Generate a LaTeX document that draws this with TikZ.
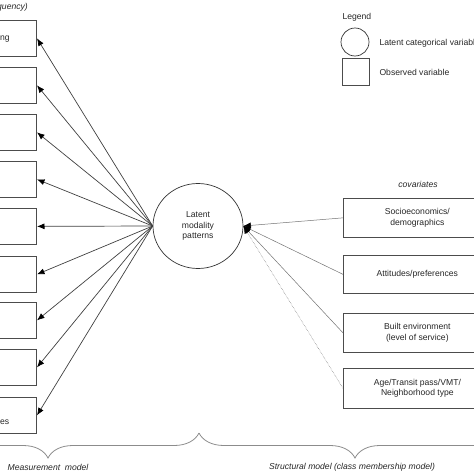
\documentclass[tikz,border=0pt]{standalone}
\usepackage{fontspec}
\setmainfont{Liberation Sans}
\usetikzlibrary{shapes.geometric,arrows.meta,decorations.pathreplacing}
\begin{document}
\begin{tikzpicture}[x=1pt,y=-1pt,
  every node/.style={font=\fontsize{8.6}{10.5}\selectfont, text=black!85},
  obsbox/.style={draw=black!70, line width=0.7pt, rectangle, inner sep=0pt},
  leftarrow/.style={draw=black!75, line width=0.7pt, -{Latex[length=7.5pt,width=6pt,black]}},
  rightarrow/.style={draw=black!55, line width=0.5pt, -{Latex[length=7.5pt,width=6pt,black]}},
  bracestyle/.style={draw=black!45, line width=0.8pt, decorate, decoration={brace, mirror, amplitude=25pt}}
]
\useasboundingbox (0,0) rectangle (474,474);

% top partial caption
\node[anchor=east, font=\fontsize{8.6}{10.5}\selectfont\itshape, inner sep=0pt] (cap) at (28,7) {(frequency)};

% left observed boxes (cut off at the left edge)
\foreach \i/\t in {1/20,2/67,3/114,4/161,5/208,6/256,7/302,8/349,9/397}{
  \node[obsbox, minimum width=97pt, minimum height=36pt, anchor=north east] (L\i) at (37,\t) {};
}
\node[anchor=west, inner sep=0pt] (t1) at (0,39) {ng};
\node[anchor=west, inner sep=0pt] (t9) at (0,422) {es};

% latent node
\node[ellipse, draw=black!80, line width=0.7pt, minimum width=90pt, minimum height=85pt, align=center, inner sep=0pt] (lat) at (198,226) {Latent\\modality\\patterns};

\foreach \i in {1,...,9}{
  \draw[leftarrow] (lat.west) -- (L\i.east);
}

% covariates
\node[font=\fontsize{8.6}{10.5}\selectfont\itshape] (cov) at (418,184) {covariates};
\node[obsbox, minimum width=148pt, minimum height=39pt, align=center, anchor=north west] (R1) at (343,198) {Socioeconomics/\\demographics};
\node[obsbox, minimum width=148pt, minimum height=38pt, align=center, anchor=north west] (R2) at (343,255) {Attitudes/preferences};
\node[obsbox, minimum width=148pt, minimum height=39pt, align=center, anchor=north west] (R3) at (343,313) {Built environment\\(level of service)};
\node[obsbox, minimum width=148pt, minimum height=40pt, align=center, anchor=north west] (R4) at (343,368) {Age/Transit pass/VMT/\\Neighborhood type};

\draw[rightarrow] (R1.west) -- (lat.east);
\draw[rightarrow] (R2.west) -- (lat.east);
\draw[rightarrow] (R3.west) -- (lat.east);
\draw[rightarrow, densely dotted] (R4.west) -- (lat.east);

% legend
\node[anchor=west] (leg) at (339,17) {Legend};
\node[circle, draw=black!80, line width=0.7pt, minimum size=28pt, inner sep=0pt] (legc) at (355,42) {};
\node[obsbox, minimum width=27pt, minimum height=27pt, anchor=north west] (legr) at (342,58) {};
\node[anchor=west] (legct) at (376,43) {Latent categorical variable};
\node[anchor=west] (legrt) at (376,72) {Observed variable};

% braces
\coordinate (b1s) at (-103,433);
\coordinate (b1e) at (199,433);
\coordinate (b2s) at (199,433);
\coordinate (b2e) at (511,433);
\draw[bracestyle] (b1s) -- (b1e);
\draw[bracestyle] (b2s) -- (b2e);
\node[font=\fontsize{8.6}{10.5}\selectfont\itshape] (mm) at (48,467) {Measurement\ \ model};
\node[font=\fontsize{8.6}{10.5}\selectfont\itshape] (sm) at (352,467) {Structural model (class membership model)};
\end{tikzpicture}
\end{document}
